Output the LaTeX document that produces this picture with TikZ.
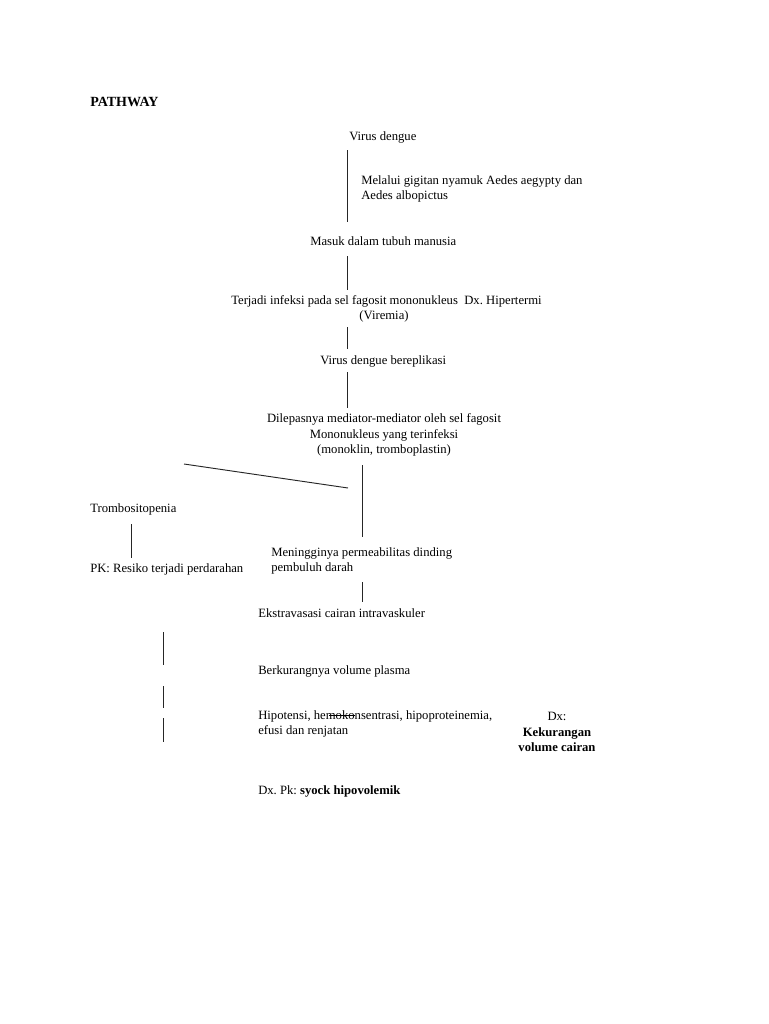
\documentclass[tikz,border=0pt]{standalone}
\usepackage{fontspec}
\setmainfont{Liberation Serif}
\usetikzlibrary{positioning}
\frenchspacing

\begin{document}
\begin{tikzpicture}[
  x=0.75pt, y=-0.75pt,
  txt/.style={anchor=west, inner sep=0pt, align=left, font=\fontsize{9.5}{11.7}\selectfont},
  ctr/.style={inner sep=0pt, align=center, font=\fontsize{9.5}{11.7}\selectfont},
  link/.style={line width=0.7pt, black!85}
]
  \useasboundingbox (0,0) rectangle (768,1024);

  \node[txt, font=\fontsize{10.5}{12}\selectfont\bfseries] (title) at (90,102) {PATHWAY};

  \node[txt] (virus) at (349,137) {Virus dengue};
  \node[txt] (gigit) at (361,189) {Melalui gigitan nyamuk Aedes aegypty dan\\Aedes albopictus};
  \node[txt] (masuk) at (310,241) {Masuk dalam tubuh manusia};
  \node[txt] (infeksi) at (231,301) {Terjadi infeksi pada sel fagosit mononukleus\ \ Dx. Hipertermi};
  \node[ctr] (viremia) at (384,316) {(Viremia)};
  \node[txt] (replik) at (320,361) {Virus dengue bereplikasi};
  \node[ctr] (mediator) at (384,435) {Dilepasnya mediator-mediator oleh sel fagosit\\Mononukleus yang terinfeksi\\(monoklin, tromboplastin)};
  \node[txt] (trombo) at (90,509) {Trombositopenia};
  \node[txt] (pk) at (90,569) {PK: Resiko terjadi perdarahan};
  \node[txt] (perm) at (271,561) {Meningginya permeabilitas dinding\\pembuluh darah};
  \node[txt] (ekstra) at (258,613) {Ekstravasasi cairan intravaskuler};
  \node[txt] (plasma) at (258,671) {Berkurangnya volume plasma};
  \node[txt] (hipo) at (258,724) {Hipotensi, hemokonsentrasi, hipoproteinemia,\\efusi dan renjatan};
  \node[ctr] (dxkur) at (557,732) {Dx:\\\textbf{Kekurangan}\\\textbf{volume cairan}};
  \node[txt] (syock) at (258,791) {Dx. Pk: \textbf{syock hipovolemik}};

  % line ends
  \coordinate (a1) at (347,150); \coordinate (a2) at (347,222);
  \coordinate (b1) at (347,256); \coordinate (b2) at (347,290);
  \coordinate (c1) at (347,327); \coordinate (c2) at (347,349);
  \coordinate (d1) at (347,372); \coordinate (d2) at (347,408);
  \coordinate (e1) at (184,464); \coordinate (e2) at (348,488);
  \coordinate (f1) at (362,465); \coordinate (f2) at (362,537);
  \coordinate (g1) at (131,524); \coordinate (g2) at (131,558);
  \coordinate (h1) at (362,582); \coordinate (h2) at (362,602);
  \coordinate (i1) at (163,632); \coordinate (i2) at (163,665);
  \coordinate (j1) at (163,686); \coordinate (j2) at (163,708);
  \coordinate (k1) at (163,718); \coordinate (k2) at (163,742);
  \coordinate (s1) at (329,715); \coordinate (s2) at (355,715);

  \draw[link] (a1) -- (a2);
  \draw[link] (b1) -- (b2);
  \draw[link] (c1) -- (c2);
  \draw[link] (d1) -- (d2);
  \draw[link] (e1) -- (e2);
  \draw[link] (f1) -- (f2);
  \draw[link] (g1) -- (g2);
  \draw[link] (h1) -- (h2);
  \draw[link] (i1) -- (i2);
  \draw[link] (j1) -- (j2);
  \draw[link] (k1) -- (k2);
  \draw[line width=0.6pt] (s1) -- (s2);
\end{tikzpicture}
\end{document}
